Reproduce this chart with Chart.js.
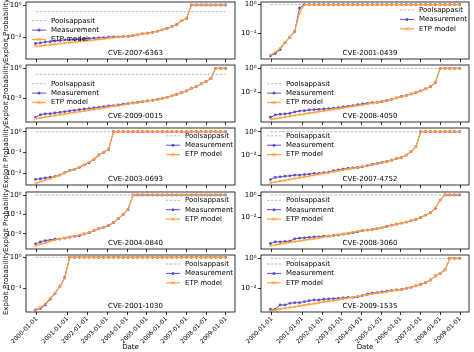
<!DOCTYPE html>
<html>
<head>
<meta charset="utf-8">
<script src="https://cdn.jsdelivr.net/npm/chart.js@4.4.1/dist/chart.umd.min.js"></script>
<style>
  html, body { margin: 0; padding: 0; background: #ffffff; }
  body { width: 474px; height: 352px; position: relative; overflow: hidden; }
  canvas { position: absolute; }
</style>
</head>
<body>
<script>
// ---------------- data ----------------
const cveIds = ['CVE-2007-6363', 'CVE-2001-0439', 'CVE-2009-0015', 'CVE-2008-4050', 'CVE-2003-0693',
                'CVE-2007-4752', 'CVE-2004-0840', 'CVE-2008-3060', 'CVE-2001-1030', 'CVE-2009-1535'];

const dateLabels = ['2000-01-01', '2001-01-01', '2002-01-01', '2003-01-01', '2004-01-01',
                    '2005-01-01', '2006-01-01', '2007-01-01', '2008-01-01', '2009-01-01'];
// where each date tick sits on the sample axis (sample index units)
const dateTickAt = [0.28, 6.6, 10.65, 14.7, 18.8, 22.85, 26.9, 31.0, 35.05, 39.1];

const poolsappasit = [0.39, 1, 0.4, 1, 1, 1, 1, 1, 1, 1];

const meas_2007_6363 = [0.0043,0.0047,0.0054,0.0056,0.0062,0.0065,0.0072,0.0072,0.0076,0.0079,0.0083,0.0087,0.0091,0.0095,0.010,0.0105,0.011,0.011,0.0115,0.012,0.013,0.0145,0.017,0.0186,0.021,0.0245,0.0295,0.036,0.046,0.063,0.107,0.15,1,1,1,1,1,1,1,1];
const etp_2007_6363  = [0.0029,0.0031,0.0034,0.0036,0.0039,0.0043,0.0046,0.0049,0.0052,0.0058,0.0062,0.0066,0.0072,0.0078,0.0083,0.0091,0.0098,0.0105,0.0112,0.012,0.013,0.0145,0.017,0.0186,0.021,0.0245,0.0295,0.036,0.046,0.063,0.107,0.15,1,1,1,1,1,1,1,1];

const meas_2001_0439 = [0.0166,0.020,0.0275,0.048,0.074,0.115,0.76,1,1,1,1,1,1,1,1,1,1,1,1,1,1,1,1,1,1,1,1,1,1,1,1,1,1,1,1,1,1,1,1,1];
const etp_2001_0439  = [0.0178,0.022,0.030,0.049,0.074,0.117,0.525,1,1,1,1,1,1,1,1,1,1,1,1,1,1,1,1,1,1,1,1,1,1,1,1,1,1,1,1,1,1,1,1,1];

const meas_2009_0015 = [0.00054,0.00081,0.00091,0.00095,0.00105,0.00117,0.00129,0.00145,0.00158,0.00174,0.00195,0.00204,0.00229,0.00251,0.00275,0.0031,0.0032,0.0036,0.0040,0.0044,0.0049,0.0054,0.006,0.0066,0.0074,0.0085,0.010,0.0117,0.0145,0.0186,0.024,0.031,0.047,0.060,0.091,0.129,0.214,1,1,1];
const etp_2009_0015  = [0.00045,0.0005,0.00056,0.00063,0.00071,0.00081,0.00091,0.00102,0.00115,0.00129,0.00145,0.00162,0.00182,0.00204,0.00229,0.0026,0.0030,0.0033,0.0037,0.0042,0.0047,0.0052,0.006,0.0066,0.0074,0.0085,0.010,0.0117,0.0145,0.0186,0.024,0.031,0.047,0.060,0.091,0.129,0.214,1,1,1];

const meas_2008_4050 = [0.000083,0.000129,0.000148,0.000158,0.000178,0.00023,0.000275,0.000295,0.00034,0.00036,0.00038,0.00041,0.00044,0.00047,0.00052,0.0006,0.00068,0.00078,0.00093,0.00107,0.0012,0.00138,0.00148,0.00166,0.00204,0.0026,0.0034,0.0044,0.0056,0.0072,0.0093,0.0129,0.019,0.0295,0.065,1,1,1,1,1];
const etp_2008_4050  = [0.000056,0.000065,0.000076,0.000087,0.000102,0.000117,0.000135,0.000158,0.000182,0.00021,0.000245,0.00028,0.00033,0.00038,0.00044,0.00051,0.00059,0.00068,0.00079,0.00091,0.00107,0.00123,0.00145,0.00166,0.00204,0.0026,0.0034,0.0044,0.0056,0.0072,0.0093,0.0129,0.019,0.0295,0.065,1,1,1,1,1];

const meas_2003_0693 = [0.0051,0.0055,0.006,0.0065,0.0069,0.0083,0.0107,0.0135,0.0155,0.0195,0.025,0.032,0.047,0.076,0.102,0.141,1,1,1,1,1,1,1,1,1,1,1,1,1,1,1,1,1,1,1,1,1,1,1,1];
const etp_2003_0693  = [0.0033,0.004,0.0048,0.0056,0.0068,0.0081,0.0105,0.0132,0.0158,0.02,0.0257,0.034,0.049,0.076,0.105,0.145,1,1,1,1,1,1,1,1,1,1,1,1,1,1,1,1,1,1,1,1,1,1,1,1];

const meas_2007_4752 = [0.000081,0.000123,0.000138,0.000158,0.00017,0.000195,0.000195,0.00022,0.000234,0.00027,0.00027,0.00031,0.00035,0.00046,0.00055,0.00063,0.00072,0.00081,0.00087,0.001,0.00123,0.00158,0.00195,0.00234,0.0029,0.0037,0.0049,0.0063,0.01,0.0195,0.051,1,1,1,1,1,1,1,1,1];
const etp_2007_4752  = [0.000043,0.00005,0.00006,0.00007,0.000083,0.0001,0.000117,0.000138,0.000162,0.000195,0.00023,0.00027,0.00032,0.00038,0.00045,0.00054,0.00063,0.00074,0.00087,0.00105,0.00123,0.00158,0.00195,0.00234,0.0029,0.0037,0.0049,0.0063,0.01,0.0195,0.051,1,1,1,1,1,1,1,1,1];

const meas_2004_0840 = [0.0031,0.0039,0.0046,0.0049,0.0054,0.0055,0.0062,0.0068,0.0076,0.0081,0.010,0.0117,0.0148,0.0186,0.022,0.0275,0.038,0.062,0.102,0.182,1,1,1,1,1,1,1,1,1,1,1,1,1,1,1,1,1,1,1,1];
const etp_2004_0840  = [0.0025,0.003,0.0035,0.0042,0.0049,0.0056,0.0063,0.0071,0.0079,0.0089,0.0102,0.012,0.0148,0.018,0.0224,0.028,0.039,0.062,0.102,0.182,1,1,1,1,1,1,1,1,1,1,1,1,1,1,1,1,1,1,1,1];

const meas_2008_3060 = [0.000047,0.000066,0.000066,0.000071,0.000076,0.000123,0.000141,0.000151,0.000162,0.000186,0.000186,0.000214,0.000214,0.000245,0.00026,0.00032,0.00037,0.00043,0.00052,0.00065,0.00074,0.00085,0.00098,0.00117,0.00155,0.00204,0.0025,0.0031,0.0038,0.005,0.0066,0.010,0.0162,0.026,0.065,0.355,1,1,1,1];
const etp_2008_3060  = [0.000031,0.000036,0.000043,0.00005,0.000059,0.000069,0.000081,0.000095,0.00011,0.000129,0.000151,0.000178,0.00021,0.000245,0.00029,0.00034,0.0004,0.00047,0.00055,0.00063,0.00074,0.00085,0.00098,0.00117,0.00155,0.00204,0.0025,0.0031,0.0038,0.005,0.0066,0.010,0.0162,0.026,0.065,0.355,1,1,1,1];

const meas_2001_1030 = [0.020,0.0224,0.029,0.0447,0.069,0.112,0.224,1,1,1,1,1,1,1,1,1,1,1,1,1,1,1,1,1,1,1,1,1,1,1,1,1,1,1,1,1,1,1,1,1];
const etp_2001_1030  = [0.0204,0.024,0.0316,0.047,0.071,0.112,0.209,1,1,1,1,1,1,1,1,1,1,1,1,1,1,1,1,1,1,1,1,1,1,1,1,1,1,1,1,1,1,1,1,1];

const meas_2009_1535 = [0.0004,0.0004,0.00078,0.00078,0.001,0.0011,0.0011,0.00129,0.00151,0.00166,0.00166,0.00186,0.00195,0.00204,0.00214,0.00229,0.0025,0.0025,0.00275,0.0032,0.004,0.0047,0.0051,0.0058,0.0063,0.0069,0.0078,0.0085,0.010,0.0117,0.0145,0.0186,0.024,0.036,0.066,0.1,0.166,1,1,1];
const etp_2009_1535  = [0.00032,0.00036,0.00042,0.00047,0.00052,0.00059,0.00068,0.00076,0.00085,0.00095,0.0011,0.00123,0.00138,0.00155,0.00178,0.002,0.00224,0.0026,0.0029,0.0032,0.0036,0.0042,0.0047,0.0052,0.0059,0.0068,0.0076,0.0085,0.010,0.0117,0.0145,0.0186,0.024,0.036,0.066,0.1,0.166,1,1,1];

const measurements = [meas_2007_6363, meas_2001_0439, meas_2009_0015, meas_2008_4050, meas_2003_0693,
                      meas_2007_4752, meas_2004_0840, meas_2008_3060, meas_2001_1030, meas_2009_1535];
const etpModels    = [etp_2007_6363, etp_2001_0439, etp_2009_0015, etp_2008_4050, etp_2003_0693,
                      etp_2007_4752, etp_2004_0840, etp_2008_3060, etp_2001_1030, etp_2009_1535];

// y-axis range (log10 of bottom / top) and labelled decades per panel
const yLogRange = [[-3.32, 0.185], [-1.89, 0.09], [-3.58, 0.22], [-4.475, 0.275], [-2.56, 0.178],
                   [-4.556, 0.316], [-2.77, 0.154], [-4.82, 0.268], [-1.765, 0.074], [-3.58, 0.22]];
const yDecades  = [[0, -2], [0, -1], [0, -2], [0, -2], [0, -1, -2],
                   [0, -2], [0, -1, -2], [0, -2], [0, -1], [0, -2]];

// ---------------- layout / style ----------------
const ROW_TOP = [2, 65, 128, 192, 255];
const PLOT_H = 57;
const PAD = 8;
const BLUE = '#5b4fd0';
const ORANGE = '#ffa03a';
const GREY = '#a8a8a8';
const FONT = '"DejaVu Sans", sans-serif';
const FS = 7;        // legend / annotation text
const TICK_FS = 6;   // x tick labels
const legendSide = ['left', 'right', 'left', 'left', 'right', 'left', 'right', 'left', 'right', 'left'];
const legendTop  = [18.7, 8, 18.7, 18.7, 7.8, 7.8, 8.3, 8.3, 9, 9];

Chart.defaults.font.family = FONT;
Chart.defaults.font.size = TICK_FS;
Chart.defaults.color = '#000';

const SUP = {'-': '\u207B', '0': '\u2070', '1': '\u00B9', '2': '\u00B2', '3': '\u00B3', '4': '\u2074', '5': '\u2075'};
function sup(n) { return String(n).split('').map(c => SUP[c]).join(''); }

function drawMarker(ctx, kind, x, y) {
  if (kind === 'circle') {
    ctx.fillStyle = BLUE;
    ctx.beginPath(); ctx.arc(x, y, 1.5, 0, Math.PI * 2); ctx.fill();
  } else if (kind === 'x') {
    ctx.strokeStyle = ORANGE; ctx.lineWidth = 1;
    ctx.beginPath();
    ctx.moveTo(x - 1.6, y - 1.6); ctx.lineTo(x + 1.6, y + 1.6);
    ctx.moveTo(x - 1.6, y + 1.6); ctx.lineTo(x + 1.6, y - 1.6);
    ctx.stroke();
  }
}

function decorPlugin(k, row, col) {
  return {
    id: 'decor' + k,
    afterDraw(chart) {
      const ctx = chart.ctx;
      const a = chart.chartArea;
      ctx.save();
      // axes frame
      ctx.strokeStyle = '#000'; ctx.lineWidth = 0.8; ctx.setLineDash([]);
      ctx.strokeRect(a.left, a.top, a.right - a.left, a.bottom - a.top);
      // legend
      ctx.font = FS + 'px ' + FONT;
      ctx.textBaseline = 'middle'; ctx.textAlign = 'left';
      const x0 = legendSide[k] === 'left' ? a.left + 6 : a.right - 69;
      const items = [
        {label: 'Poolsappasit', color: GREY, dash: [2.5, 1.5], lw: 0.8, marker: null},
        {label: 'Measurement', color: BLUE, dash: [], lw: 1, marker: 'circle'},
        {label: 'ETP model', color: ORANGE, dash: [], lw: 1.2, marker: 'x'}
      ];
      items.forEach((it, j) => {
        const y = a.top + legendTop[k] + j * 9.4;
        ctx.strokeStyle = it.color; ctx.lineWidth = it.lw; ctx.setLineDash(it.dash);
        ctx.beginPath(); ctx.moveTo(x0, y); ctx.lineTo(x0 + 14, y); ctx.stroke();
        ctx.setLineDash([]);
        if (it.marker) drawMarker(ctx, it.marker, x0 + 7, y);
        ctx.fillStyle = '#000';
        ctx.fillText(it.label, x0 + 19, y);
      });
      // CVE id
      ctx.textAlign = 'center';
      ctx.fillStyle = '#000';
      ctx.fillText(cveIds[k], (a.left + a.right) / 2 + 5, a.bottom - 6);
      // y title (left column)
      if (col === 0) {
        ctx.save();
        ctx.translate(6, (a.top + a.bottom) / 2);
        ctx.rotate(-Math.PI / 2);
        ctx.textAlign = 'center';
        ctx.fillText('Exploit Probability', 0, 0);
        ctx.restore();
      }
      // x title (bottom row)
      if (row === 4) {
        ctx.textAlign = 'center';
        ctx.fillText('Date', (a.left + a.right) / 2, 347.5 - (ROW_TOP[row] - PAD));
      }
      ctx.restore();
    }
  };
}

cveIds.forEach((cve, k) => {
  const row = Math.floor(k / 2), col = k % 2;
  const bottomRow = row === 4;
  const xH = bottomRow ? 40 : 4;
  const padBottom = bottomRow ? 0 : 4;
  const cw = col === 0 ? 240 : 234;
  const ch = PAD + PLOT_H + xH + padBottom;
  const canvas = document.createElement('canvas');
  canvas.width = cw; canvas.height = ch;
  canvas.style.left = (col === 0 ? 0 : 240) + 'px';
  canvas.style.top = (ROW_TOP[row] - PAD) + 'px';
  canvas.style.width = cw + 'px'; canvas.style.height = ch + 'px';
  document.body.appendChild(canvas);

  const toPts = arr => arr.map((v, i) => ({x: i, y: v}));
  const n = measurements[k].length;

  new Chart(canvas, {
    type: 'line',
    data: {
      datasets: [
        {label: 'ETP model', data: toPts(etpModels[k]), borderColor: ORANGE, backgroundColor: ORANGE,
         borderWidth: 1.2, pointStyle: 'crossRot', pointRadius: 1.8, pointBorderWidth: 1, order: 0},
        {label: 'Measurement', data: toPts(measurements[k]), borderColor: BLUE, backgroundColor: BLUE,
         borderWidth: 1, pointStyle: 'circle', pointRadius: 1.4, pointBorderWidth: 0, order: 1},
        {label: 'Poolsappasit', data: [{x: 0, y: poolsappasit[k]}, {x: n - 1, y: poolsappasit[k]}],
         borderColor: GREY, borderDash: [2.5, 1.5], borderWidth: 0.8, pointRadius: 0, order: 2}
      ]
    },
    options: {
      responsive: false, animation: false, events: [], devicePixelRatio: 1,
      layout: {padding: {top: PAD, bottom: padBottom, left: 0, right: col === 0 ? 3 : 2}},
      plugins: {legend: {display: false}, tooltip: {enabled: false}},
      scales: {
        x: {
          type: 'linear', min: -1.95, max: 40.95,
          border: {display: false},
          grid: {drawOnChartArea: false, drawTicks: true, tickLength: 3, color: '#000', tickColor: '#000', lineWidth: 0.8},
          afterBuildTicks: s => { s.ticks = dateTickAt.map(v => ({value: v})); },
          afterFit: s => { s.height = xH; },
          ticks: {display: bottomRow, autoSkip: false, minRotation: 45, maxRotation: 45, padding: 0.5,
                  font: {size: TICK_FS}, callback: (v, i) => dateLabels[i]}
        },
        y: {
          type: 'logarithmic',
          min: Math.pow(10, yLogRange[k][0]), max: Math.pow(10, yLogRange[k][1]),
          border: {display: false},
          grid: {drawOnChartArea: false, drawTicks: true, tickLength: 3, color: '#000', tickColor: '#000', lineWidth: 0.8},
          afterBuildTicks: s => { s.ticks = yDecades[k].map(e => ({value: Math.pow(10, e)})); },
          afterFit: s => { s.width = col === 0 ? 26 : 21; },
          ticks: {autoSkip: false, padding: 1.5, font: {size: 7}, callback: v => '10' + sup(Math.round(Math.log10(v)))}
        }
      }
    },
    plugins: [decorPlugin(k, row, col)]
  });
});
</script>
</body>
</html>
